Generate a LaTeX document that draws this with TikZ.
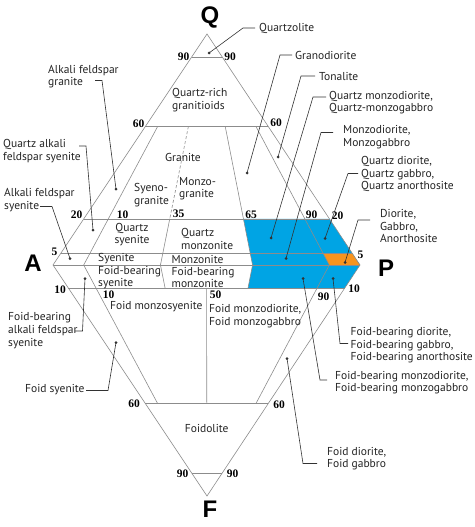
\documentclass[tikz,border=0pt]{standalone}
\usepackage{fontspec}
\setmainfont{PT Sans}
\newfontfamily\numff{Liberation Serif}
\newfontfamily\vtxff{Liberation Sans}
\definecolor{qblue}{RGB}{0,164,228}
\definecolor{qorange}{RGB}{247,148,30}
\definecolor{tgrey}{RGB}{140,140,140}
\definecolor{ldark}{RGB}{50,50,50}
\definecolor{txt}{RGB}{35,35,35}
\begin{document}
\begin{tikzpicture}[x=1pt,y=-1pt,
  tline/.style={draw=tgrey,line width=0.6pt},
  lead/.style={draw=ldark,line width=0.6pt},
  lbl/.style={font=\fontsize{11.5}{12.6}\selectfont,text=txt,inner sep=0pt,align=left,anchor=west},
  clbl/.style={font=\fontsize{11.5}{12.6}\selectfont,text=txt,inner sep=0pt,align=center},
  num/.style={font=\numff\bfseries\fontsize{11.5}{12}\selectfont,text=black,inner sep=0pt},
  vtx/.style={font=\vtxff\bfseries\fontsize{24}{24}\selectfont,text=black,inner sep=0pt},
  dotm/.style={circle,fill=ldark,inner sep=0pt,minimum size=3pt}]
\path[use as bounding box] (0,0) rectangle (474,527);

% vertices
\coordinate (A) at (53,265);
\coordinate (P) at (360,265);
\coordinate (Q) at (207,34);
\coordinate (F) at (207,496);

% filled fields
\fill[qblue] (243.44,218.8) -- (329.4,218.8) -- (P) -- (344.7,288.1) -- (248.0,288.1) -- (252.55,265) -- cycle;
\fill[qorange] (323.2,253.45) -- (352.35,253.45) -- (P) -- (329.3,265) -- cycle;

% outline
\draw[tline] (Q) -- (A) -- (F) -- (P) -- cycle;
\draw[tline] (A) -- (P);
% horizontal levels
\draw[tline] (191.6,57.1) -- (222.3,57.1);
\draw[tline] (145.4,126.4) -- (268.2,126.4);
\draw[tline] (83.8,218.8) -- (329.4,218.8);
\draw[tline] (60.7,253.45) -- (352.35,253.45);
\draw[tline] (68.4,288.1) -- (344.7,288.1);
\draw[tline] (145.4,403.6) -- (268.2,403.6);
\draw[tline] (191.6,472.9) -- (222.3,472.9);
% ratio lines
\draw[tline] (157.68,126.4) -- (83.7,265) -- (157.68,403.6);
\draw[tline,dash pattern=on 3pt off 2pt] (188.38,126.4) -- (169.76,218.8);
\draw[tline] (169.76,218.8) -- (160.45,265) -- (165.1,288.1);
\draw[tline] (225.22,126.4) -- (243.44,218.8) -- (252.55,265) -- (248.0,288.1);
\draw[tline] (255.92,126.4) -- (329.3,265) -- (255.92,403.6);
\draw[tline] (206.55,288.1) -- (206.8,403.6);

% vertex letters
\node[vtx] (lq) at (210,17) {Q};
\node[vtx] (la) at (33,263) {A};
\node[vtx] (lp) at (386,268) {P};
\node[vtx] (lf) at (210,509) {F};

% numbers
\node[num] (n1) at (183.5,57) {90};
\node[num] (n2) at (230,57) {90};
\node[num] (n3) at (138.5,124) {60};
\node[num] (n4) at (276,123) {60};
\node[num] (n5) at (76.5,215) {20};
\node[num] (n6) at (122.5,215) {10};
\node[num] (n7) at (178.5,213.5) {35};
\node[num] (n8) at (251,215) {65};
\node[num] (n9) at (311.5,215) {90};
\node[num] (n10) at (337.5,216) {20};
\node[num] (n11) at (54.5,252) {5};
\node[num] (n12) at (360.5,255) {5};
\node[num] (n13) at (60,290) {10};
\node[num] (n14) at (108.5,295) {10};
\node[num] (n15) at (215.5,295) {50};
\node[num] (n16) at (323.5,297) {90};
\node[num] (n17) at (354,289) {10};
\node[num] (n18) at (134,404) {60};
\node[num] (n19) at (279,405) {60};
\node[num] (n20) at (182.5,474) {90};
\node[num] (n21) at (232.5,474) {90};

% interior labels
\node[lbl] (f1) at (172,100) {Quartz-rich\\granitioids};
\node[clbl] (f2) at (183,157) {Granite};
\node[lbl] (f3) at (134,195) {Syeno-\\granite};
\node[lbl] (f4) at (179,188.5) {Monzo-\\granite};
\node[clbl] (f5) at (132,234.5) {Quartz\\syenite};
\node[lbl] (f6) at (181,239) {Quartz\\monzonite};
\node[lbl] (f7) at (98,258.5) {Syenite};
\node[lbl] (f8) at (171.5,259.3) {Monzonite};
\node[lbl] (f9) at (98,277.5) {Foid-bearing\\syenite};
\node[lbl] (f10) at (171.5,277.5) {Foid-bearing\\monzonite};
\node[lbl] (f11) at (110,307) {Foid monzosyenite};
\node[lbl] (f12) at (209,316) {Foid monzodiorite,\\Foid monzogabbro};
\node[clbl] (f13) at (206.7,428) {Foidolite};

% outer labels
\node[lbl] (t1) at (259,28) {Quartzolite};
\node[lbl] (t2) at (295,55) {Granodiorite};
\node[lbl] (t3) at (319,76) {Tonalite};
\node[lbl] (t4) at (329,102.7) {Quartz monzodiorite,\\Quartz-monzogabbro};
\node[lbl] (t5) at (343,137) {Monzodiorite,\\Monzogabbro};
\node[lbl] (t6) at (361,174) {Quartz diorite,\\Quartz gabbro,\\Quartz anorthosite};
\node[lbl] (t7) at (380,226) {Diorite,\\Gabbro,\\Anorthosite};
\node[lbl] (t8) at (350.5,345.5) {Foid-bearing diorite,\\Foid-bearing gabbro,\\Foid-bearing anorthosite};
\node[lbl] (t9) at (335,382.7) {Foid-bearing monzodiorite,\\Foid-bearing monzogabbro};
\node[lbl] (t10) at (327,458.5) {Foid diorite,\\Foid gabbro};
\node[lbl] (t11) at (48,76.5) {Alkali feldspar\\granite};
\node[lbl] (t12) at (3,151) {Quartz alkali\\feldspar syenite};
\node[lbl] (t13) at (4,200) {Alkali feldspar\\syenite};
\node[lbl] (t14) at (8,330.7) {Foid-bearing\\alkali feldspar\\syenite};
\node[lbl] (t15) at (25,390) {Foid syenite};

% dots
\node[dotm] (d1) at (209,53) {};
\node[dotm] (d2) at (247,173) {};
\node[dotm] (d3) at (278,157) {};
\node[dotm] (d4) at (271,238) {};
\node[dotm] (d5) at (286,258.5) {};
\node[dotm] (d6) at (325,238.5) {};
\node[dotm] (d7) at (345,262.5) {};
\node[dotm] (d8) at (333,278.5) {};
\node[dotm] (d9) at (303,278.5) {};
\node[dotm] (d10) at (287,358.5) {};
\node[dotm] (d11) at (116,189) {};
\node[dotm] (d12) at (93,230) {};
\node[dotm] (d13) at (70,258.5) {};
\node[dotm] (d14) at (85,278.5) {};
\node[dotm] (d15) at (116,342.5) {};

% leader elbows
\coordinate (k1a) at (255,28);   \coordinate (k1b) at (243,28);
\coordinate (k2a) at (292,55);   \coordinate (k2b) at (280,55);
\coordinate (k3a) at (315,76);   \coordinate (k3b) at (301,76);
\coordinate (k4a) at (326,97);   \coordinate (k4b) at (313,97);
\coordinate (k5a) at (333,132.5);\coordinate (k5b) at (321,132.5);
\coordinate (k6a) at (358,173.5);\coordinate (k6b) at (348,173.5);
\coordinate (k7a) at (370,220);  \coordinate (k7b) at (358,220);
\coordinate (k8a) at (348,343.5);\coordinate (k8b) at (340,343.5);
\coordinate (k9a) at (327,380);  \coordinate (k9b) at (320,380);
\coordinate (k10a) at (317,463.5);\coordinate (k10b) at (303,463.5);
\coordinate (k11a) at (95,80.5); \coordinate (k11b) at (102,80.5);
\coordinate (k12a) at (79,146);  \coordinate (k12b) at (86,146);
\coordinate (k13a) at (40,206.5);\coordinate (k13b) at (52,206.5);
\coordinate (k14a) at (75,331);  \coordinate (k14b) at (82.5,331);
\coordinate (k15a) at (86,390.5);\coordinate (k15b) at (108,390.5);

\foreach \i in {1,...,15}{
  \draw[lead] (k\i a) -- (k\i b) -- (d\i.center);
}
\end{tikzpicture}
\end{document}
